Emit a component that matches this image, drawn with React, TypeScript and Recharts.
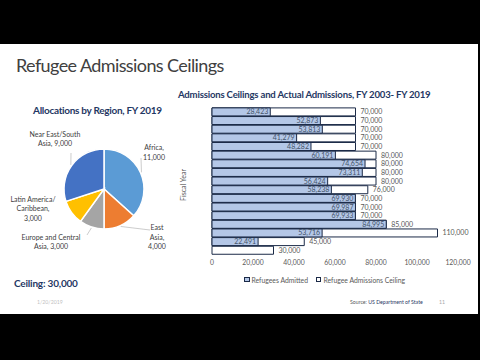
import { PieChart, Pie, Cell, BarChart, Bar, XAxis, YAxis, LabelList } from 'recharts'

const REGIONS = ['Africa', 'East Asia', 'Europe and Central Asia', 'Latin America/Caribbean', 'Near East/South Asia']
const ALLOCATIONS = [11000, 4000, 3000, 3000, 9000]
const REGION_COLORS = ['#5B9BD5', '#ED7D31', '#A5A5A5', '#FFC000', '#4472C4']

const YEARS = ['2003', '2004', '2005', '2006', '2007', '2008', '2009', '2010', '2011', '2012', '2013', '2014', '2015', '2016', '2017', '2018', '2019']
const ADMITTED = [28423, 52873, 53813, 41279, 48282, 60191, 74654, 73311, 56424, 58238, 69930, 69987, 69933, 84995, 53716, 22491, null]
const CEILINGS = [70000, 70000, 70000, 70000, 70000, 80000, 80000, 80000, 80000, 76000, 70000, 70000, 70000, 85000, 110000, 45000, 30000]
const X_TICKS = [0, 20000, 40000, 60000, 80000, 100000, 120000]

const FONT = 'Lato, "Open Sans", sans-serif'
const NAVY = '#1F3864'
const BAR_EDGE = '#1B2A47'

const fmt = (v: number | null | undefined) => (v == null ? '' : v.toLocaleString('en-US'))

// where each pie label sits relative to the pie centre, and where its leader line ends
const PIE_LABEL_LAYOUT: Record<string, { dx: number; dy: number; maxChars: number; line?: [number, number] }> = {
  'Africa': { dx: 50, dy: -36.5, maxChars: 7, line: [37, -31] },
  'East Asia': { dx: 53, dy: 48, maxChars: 5, line: [46, 41] },
  'Europe and Central Asia': { dx: -53, dy: 53, maxChars: 18, line: [-17, 46] },
  'Latin America/Caribbean': { dx: -71, dy: 19.5, maxChars: 14 },
  'Near East/South Asia': { dx: -49, dy: -50, maxChars: 15, line: [-33, -36] },
}

function wrapLabel(text: string, maxChars: number) {
  const tokens = text.replace(/\//g, '/ ').split(' ').filter(Boolean)
  const lines: string[] = []
  let cur = ''
  for (const t of tokens) {
    const joiner = cur === '' ? '' : cur.endsWith('/') ? '' : ' '
    if (cur !== '' && (cur + joiner + t).length > maxChars) {
      lines.push(cur)
      cur = t
    } else {
      cur = cur + joiner + t
    }
  }
  if (cur) lines.push(cur)
  return lines
}

function PieLabel(props: any) {
  const { cx, cy, midAngle, outerRadius, index } = props
  const region = REGIONS[index]
  const lay = PIE_LABEL_LAYOUT[region]
  const lines = wrapLabel(`${region}, ${fmt(ALLOCATIONS[index])}`, lay.maxChars)
  const rad = (-midAngle * Math.PI) / 180
  const ex = cx + (outerRadius + 1) * Math.cos(rad)
  const ey = cy + (outerRadius + 1) * Math.sin(rad)
  const lh = 9.5
  const x = cx + lay.dx
  const y0 = cy + lay.dy - ((lines.length - 1) * lh) / 2 + 2.5
  return (
    <g>
      {lay.line && (
        <line x1={ex} y1={ey} x2={cx + lay.line[0]} y2={cy + lay.line[1]} stroke="#BFBFBF" strokeWidth={0.8} />
      )}
      <text x={x} y={y0} textAnchor="middle" fill="#404040" fontSize={7} fontFamily={FONT}>
        {lines.map((l, i) => (
          <tspan key={i} x={x} dy={i === 0 ? 0 : lh}>{l}</tspan>
        ))}
      </text>
    </g>
  )
}

const pieData = REGIONS.map((region, i) => ({ region, value: ALLOCATIONS[i] }))
const barData = YEARS.map((year, i) => ({ year, admitted: ADMITTED[i], ceiling: CEILINGS[i] }))

const abs = (left: number, top: number, extra: React.CSSProperties = {}): React.CSSProperties => ({
  position: 'absolute',
  left,
  top,
  ...extra,
})

export default function App() {
  return (
    <div style={{ position: 'absolute', left: 0, top: 0, width: 480, height: 360, background: '#000', overflow: 'hidden', fontFamily: FONT }}>
      <div style={abs(0, 44, { width: 478, height: 270, background: '#fff' })} />

      <div style={abs(16, 54, { fontSize: 18, color: '#404040', whiteSpace: 'nowrap', letterSpacing: -0.6 })}>
        Refugee Admissions Ceilings
      </div>

      <div style={abs(33, 103.5, { fontSize: 10, fontWeight: 700, color: NAVY, whiteSpace: 'nowrap', letterSpacing: -0.3 })}>
        Allocations by Region, FY 2019
      </div>

      <div style={abs(4, 89)}>
        <PieChart width={200} height={200} margin={{ top: 0, right: 0, bottom: 0, left: 0 }}>
          <Pie
            data={pieData}
            dataKey="value"
            nameKey="region"
            cx={100}
            cy={100}
            outerRadius={40}
            startAngle={90}
            endAngle={-270}
            stroke="#fff"
            strokeWidth={1.5}
            label={PieLabel}
            labelLine={false}
            isAnimationActive={false}
          >
            {pieData.map((_, i) => (
              <Cell key={i} fill={REGION_COLORS[i]} />
            ))}
          </Pie>
        </PieChart>
      </div>

      <div style={abs(14, 276.5, { fontSize: 10, fontWeight: 700, color: NAVY, whiteSpace: 'nowrap', letterSpacing: -0.2 })}>
        Ceiling: 30,000
      </div>

      <div style={abs(178, 89, { fontSize: 9.6, fontWeight: 700, color: NAVY, whiteSpace: 'nowrap', letterSpacing: -0.2 })}>
        Admissions Ceilings and Actual Admissions, FY 2003- FY 2019
      </div>

      <div style={abs(183, 185, { fontSize: 7, color: '#595959', whiteSpace: 'nowrap', transform: 'translate(-50%, -50%) rotate(-90deg)' })}>
        Fiscal Year
      </div>

      <div style={abs(175, 100)}>
        <BarChart
          width={300}
          height={180}
          data={barData}
          layout="vertical"
          margin={{ top: 7.5, right: 17, bottom: 0, left: 0 }}
          barCategoryGap={0.4}
        >
          <XAxis
            type="number"
            domain={[0, 120000]}
            ticks={X_TICKS}
            tickFormatter={fmt}
            axisLine={false}
            tickLine={false}
            tickSize={4}
            tickMargin={2}
            height={25.5}
            tick={{ fill: '#595959', fontSize: 6.8, fontFamily: FONT }}
            interval={0}
          />
          <YAxis
            yAxisId="ceil"
            type="category"
            dataKey="year"
            width={37}
            axisLine={false}
            tickLine={false}
            tickSize={4}
            tickMargin={2}
            tick={{ fill: '#595959', fontSize: 6.8, fontFamily: FONT }}
            interval={0}
          />
          <YAxis yAxisId="adm" type="category" dataKey="year" hide />
          <Bar yAxisId="ceil" dataKey="ceiling" name="Refugee Admissions Ceiling" fill="#fff" stroke={BAR_EDGE} strokeWidth={1} isAnimationActive={false}>
            <LabelList dataKey="ceiling" position="right" offset={5} formatter={fmt} fill="#595959" fontSize={7} fontFamily={FONT} />
          </Bar>
          <Bar yAxisId="adm" dataKey="admitted" name="Refugees Admitted" fill="#B4C7E7" stroke={BAR_EDGE} strokeWidth={1} isAnimationActive={false}>
            <LabelList dataKey="admitted" position="insideRight" offset={2} formatter={fmt} fill="#44546A" fontSize={7} fontFamily={FONT} />
          </Bar>
        </BarChart>
      </div>

      <div style={abs(244, 275.5, { display: 'flex', alignItems: 'center', fontSize: 6.8, color: '#595959', whiteSpace: 'nowrap' })}>
        <span style={{ width: 3.5, height: 3.5, border: `1.2px solid ${BAR_EDGE}`, background: '#B4C7E7', marginRight: 2 }} />
        <span style={{ marginRight: 8 }}>Refugees Admitted</span>
        <span style={{ width: 3.5, height: 3.5, border: `1.2px solid ${BAR_EDGE}`, background: '#fff', marginRight: 2 }} />
        <span>Refugee Admissions Ceiling</span>
      </div>

      <div style={abs(350, 299, { fontSize: 5.2, color: '#595959', whiteSpace: 'nowrap' })}>
        Source: <span style={{ color: NAVY }}>US Department of State</span>
      </div>
      <div style={abs(439, 299, { fontSize: 5.2, color: '#A6A6A6' })}>11</div>
      <div style={abs(37, 299, { fontSize: 5.2, color: '#BFBFBF' })}>1/20/2019</div>
    </div>
  )
}
